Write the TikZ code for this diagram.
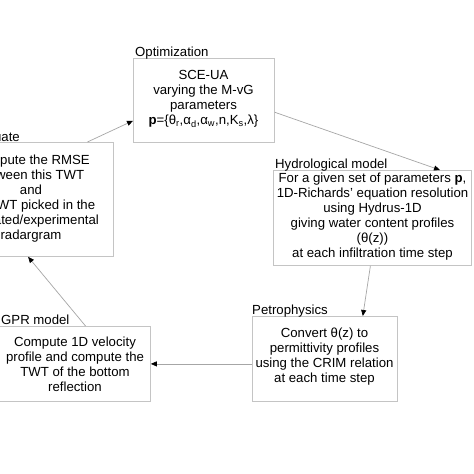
\documentclass[tikz,border=0pt]{standalone}
\usepackage{fontspec}
\setmainfont{Liberation Sans}
\usetikzlibrary{arrows.meta,calc}
\definecolor{boxc}{HTML}{C4C4C4}
\definecolor{linec}{HTML}{A6A6A6}
\begin{document}
\begin{tikzpicture}[x=1pt,y=-1pt,
  box/.style={draw=boxc, line width=0.8pt, rectangle, inner sep=0pt, anchor=north west},
  txt/.style={align=center, inner sep=0pt, anchor=north, font=\fontsize{13.2}{15}\selectfont},
  lbl/.style={inner sep=0pt, anchor=base west, font=\fontsize{13.2}{15}\selectfont},
  arr/.style={draw=linec, line width=0.7pt, -{Triangle[length=6pt,width=5pt,black]}}]
\useasboundingbox (0,0) rectangle (474,474);
\clip (0,0) rectangle (474,474);
\fill[white] (0,0) rectangle (474,474);
% boxes
\node[box, minimum width=141pt, minimum height=84pt] (opt) at (133,58) {};
\node[box, minimum width=164pt, minimum height=114pt] (eval) at (-51,142) {};
\node[box, minimum width=198pt, minimum height=95pt] (hyd) at (273,170) {};
\node[box, minimum width=145pt, minimum height=85pt] (petro) at (252,316) {};
\node[box, minimum width=151pt, minimum height=75pt] (gpr) at (-1,326) {};
% labels
\node[lbl] (optl) at (135,56) {Optimization};
\node[lbl, anchor=base east] (evall) at (20,141) {Evaluate};
\node[lbl] (hydl) at (275,168) {Hydrological model};
\node[lbl] (petrol) at (252,314) {Petrophysics};
\node[lbl] (gprl) at (1,324) {GPR model};
% texts
\node[txt] (optt) at (203.5,70.5) {SCE-UA\\varying the M-vG\\parameters\\\textbf{p}=\{θ\textsubscript{r},α\textsubscript{d},α\textsubscript{w},n,K\textsubscript{s},λ\}};
\node[txt] (evalt) at (31,154.5) {Compute the RMSE\\between this TWT\\and\\the TWT picked in the\\simulated/experimental\\radargram};
\node[txt] (hydt) at (372.5,172.5) {For a given set of parameters \textbf{p},\\1D-Richards' equation resolution\\using Hydrus-1D\\giving water content profiles\\(θ(z))\\at each infiltration time step};
\node[txt] (petrot) at (324.5,327.5) {Convert θ(z) to\\permittivity profiles\\using the CRIM relation\\at each time step};
\node[txt] (gprt) at (75,336.5) {Compute 1D velocity\\profile and compute the\\TWT of the bottom\\reflection};
% connectors
\draw[arr] ($(opt.north east)!0.64!(opt.south east)$) -- ($(hyd.north west)!0.84!(hyd.north east)$);
\draw[arr] ($(hyd.south west)!0.49!(hyd.south east)$) -- ($(petro.north west)!0.76!(petro.north east)$);
\draw[arr] (petro.west |- gpr.east) -- (gpr.east);
\draw[arr] ($(gpr.north west)!0.57!(gpr.north east)$) -- ($(eval.south west)!0.48!(eval.south east)$);
\draw[arr] ($(eval.north west)!0.84!(eval.north east)$) -- ($(opt.north west)!0.74!(opt.south west)$);
\end{tikzpicture}
\end{document}
